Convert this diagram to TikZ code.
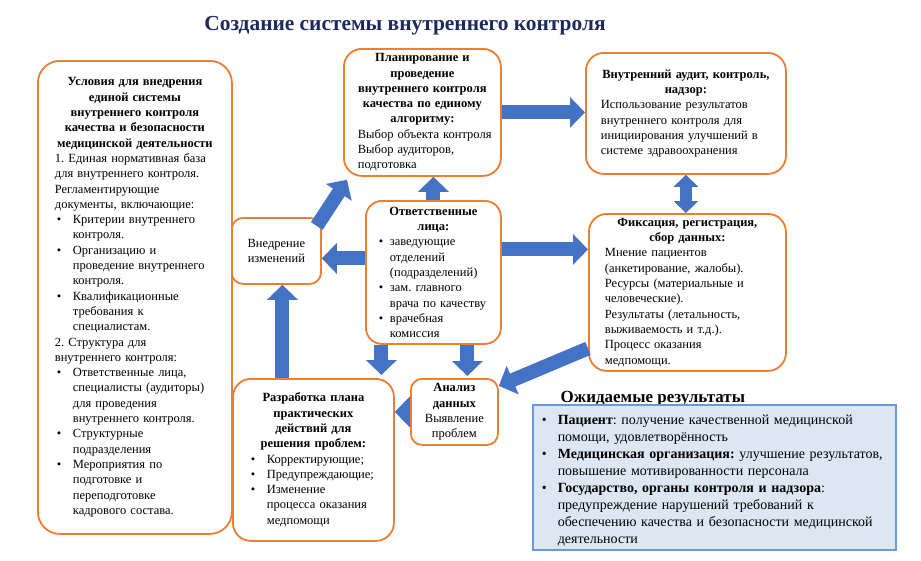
\documentclass[tikz,border=0pt]{standalone}
\usepackage{fontspec}
\setmainfont{Liberation Serif}
\usetikzlibrary{arrows.meta}
\frenchspacing

\definecolor{boxorange}{HTML}{ED7D31}
\definecolor{arrowblue}{HTML}{4472C4}
\definecolor{titlenavy}{HTML}{1C2A5E}
\definecolor{resfill}{HTML}{DCE7F3}
\definecolor{resline}{HTML}{6A9BD0}

% bullet item with hanging indent
\newcommand{\li}[2][18pt]{\par\hangindent=#1\hangafter=1\noindent\makebox[#1][l]{\hspace{2pt}\textbullet}#2\par}

\begin{document}
\begin{tikzpicture}[x=1pt,y=-1pt,
    box/.style={draw=boxorange, line width=1.8pt, fill=white, rounded corners=18pt,
      anchor=north west, inner xsep=4pt, inner ysep=2pt, align=left,
      font=\fontsize{12.5}{15.3}\selectfont},
    smallbox/.style={box, rounded corners=11pt, align=center},
    arr/.style={arrowblue, line width=14pt, -{Triangle[width=30pt,length=15pt]}}
    ]
    \useasboundingbox[fill=white] (0,0) rectangle (921,560);

    \node[anchor=base, text=titlenavy, font=\fontsize{21.4}{25}\selectfont\bfseries] (title) at (405,30)
      {Создание системы внутреннего контроля};

    \node[box, rounded corners=22pt, text width=186pt, minimum height=473pt] (cond) at (37,60) {\leftskip=13pt
      {\centering\bfseries Условия для внедрения\\ единой системы\\ внутреннего контроля\\
        качества и безопасности\\ медицинской деятельности\par}
      1. Единая нормативная база\\ для внутреннего контроля.\\ Регламентирующие\\ документы, включающие:\par
      \li{Критерии внутреннего\newline контроля.}
      \li{Организацию и\newline проведение внутреннего\newline контроля.}
      \li{Квалификационные\newline требования к\newline специалистам.}
      2. Структура для\\ внутреннего контроля:\par
      \li{Ответственные лица,\newline специалисты (аудиторы)\newline для проведения\newline внутреннего контроля.}
      \li{Структурные\newline подразделения}
      \li{Мероприятия по\newline подготовке и\newline переподготовке\newline кадрового состава.}};

    \node[box, text width=149pt, minimum height=127pt] (plan) at (343,48) {\leftskip=10pt
      {\centering\bfseries Планирование и\\ проведение\\ внутреннего контроля\\ качества по единому\\ алгоритму:\par}
      Выбор объекта контроля\\ Выбор аудиторов,\\ подготовка\par};

    \node[box, text width=192pt, minimum height=121pt] (audit) at (585,52) {\leftskip=11pt
      {\centering\bfseries Внутренний аудит, контроль,\\ надзор:\par}
      Использование результатов\\ внутреннего контроля для\\ инициирования улучшений в\\ системе здравоохранения\par};

    \node[smallbox, text width=81pt, minimum height=66pt] (vnedr) at (231,217)
      {Внедрение\\ изменений};

    \node[box, rounded corners=16pt, text width=127pt, minimum height=143pt] (otv) at (365,200) {\leftskip=7pt
      {\centering\bfseries Ответственные\\ лица:\par}
      \li[13pt]{заведующие\newline отделений\newline (подразделений)}
      \li[13pt]{зам. главного\newline врача по качеству}
      \li[13pt]{врачебная\newline комиссия}};

    \node[box, text width=189pt, minimum height=157pt] (fix) at (588,213) {\leftskip=12pt
      {\centering\bfseries Фиксация, регистрация,\\ сбор данных:\par}
      Мнение пациентов\\ (анкетирование, жалобы).\\ Ресурсы (материальные и\\ человеческие).\\
      Результаты (летальность,\\ выживаемость и т.д.).\\ Процесс оказания\\ медпомощи.\par};

    \node[smallbox, text width=79pt, minimum height=66pt] (anal) at (410,378)
      {\textbf{Анализ}\\ \textbf{данных}\\ Выявление\\ проблем};

    \node[box, text width=153pt, minimum height=162pt] (razr) at (232,378) {\leftskip=12pt
      {\centering\bfseries Разработка плана\\ практических\\ действий для\\ решения проблем:\par}
      \li{Корректирующие;}
      \li{Предупреждающие;}
      \li{Изменение\newline процесса оказания\newline медпомощи}};

    \node[anchor=base west, font=\fontsize{17}{20}\selectfont\bfseries] (reshead) at (557,402)
      {Ожидаемые результаты};
    \node[box, draw=resline, fill=resfill, rounded corners=0pt, line width=1.5pt, text width=355pt,
      minimum height=145pt, font=\fontsize{14}{17}\selectfont] (res) at (532,404) {\leftskip=3pt
      \li{\textbf{Пациент}: получение качественной медицинской\newline помощи, удовлетворённость}
      \li{\textbf{Медицинская организация:} улучшение результатов,\newline повышение мотивированности персонала}
      \li{\textbf{Государство, органы контроля и надзора}:\newline предупреждение нарушений требований к\newline
        обеспечению качества и безопасности медицинской\newline деятельности}};

    % helper points for the block arrows
    \coordinate (otvR) at ([yshift=23pt]otv.east);
    \coordinate (otvL) at ([yshift=14pt]otv.west);
    \coordinate (otvS1) at ([xshift=-52pt]otv.south);
    \coordinate (otvS2) at ([xshift=34pt]otv.south);
    \coordinate (vnedrNE) at ([xshift=-5pt,yshift=-9pt]vnedr.north east);
    \coordinate (planSW) at ([xshift=4pt,yshift=-3pt]plan.south west);
    \coordinate (fixW) at ([yshift=-56pt]fix.west);
    \coordinate (analE) at ([yshift=26pt]anal.east);
    \coordinate (vnedrS) at ([xshift=6pt]vnedr.south);

    \draw[arr] (plan.east) -- (plan.east -| audit.west);
    \draw[arrowblue, line width=12pt, {Triangle[width=24pt,length=12pt]}-{Triangle[width=24pt,length=12pt]}]
      (audit.south) -- (audit.south |- fix.north);
    \draw[arr] (otv.north) -- (otv.north |- plan.south);
    \draw[arr] (otvR) -- (otvR -| fix.west);
    \draw[arr] (otvL) -- (otvL -| vnedr.east);
    \draw[arr] (vnedrNE) -- (planSW);
    \draw[arr] (otvS1) -- ([yshift=3pt]otvS1 |- razr.north);
    \draw[arr] (otvS2) -- ([yshift=2pt]otvS2 |- anal.north);
    \draw[arr] (fixW) -- (analE);
    \draw[arr] (anal.west) -- (anal.west -| razr.east);
    \draw[arr] (vnedrS |- razr.north) -- (vnedrS);
\end{tikzpicture}
\end{document}
